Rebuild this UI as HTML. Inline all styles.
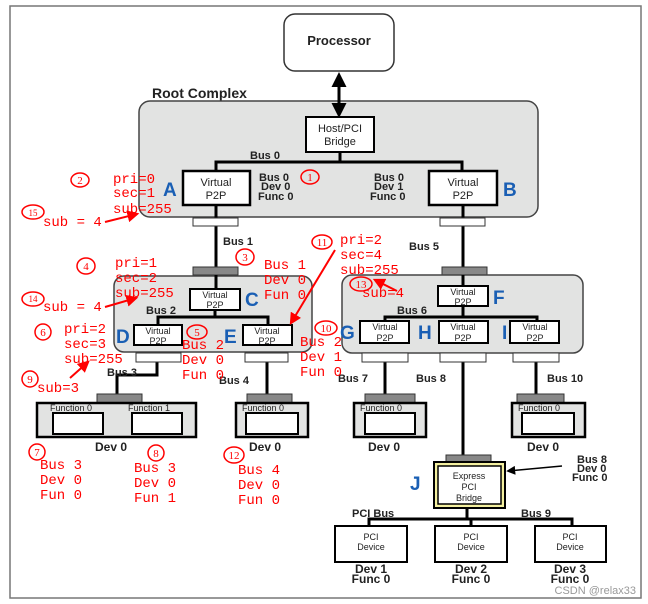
<!DOCTYPE html>
<html><head><meta charset="utf-8"><style>
html,body{margin:0;padding:0;background:#fff;}
svg{display:block;}
.s{font-family:"Liberation Sans",sans-serif;fill:#222;}
.r{font-family:"Liberation Mono",monospace;fill:#f00;font-size:14px;}
.b{font-family:"Liberation Sans",sans-serif;fill:#1a5fb4;font-weight:bold;font-size:19px;}
</style></head><body>
<svg width="648" height="604" viewBox="0 0 648 604" xmlns="http://www.w3.org/2000/svg">
<rect x="10" y="6" width="631" height="592" fill="none" stroke="#777" stroke-width="1.5"/>
<defs>
<marker id="ab" viewBox="0 0 10 10" refX="8" refY="5" markerWidth="5" markerHeight="5" orient="auto-start-reverse"><path d="M0,0L10,5L0,10z" fill="#000"/></marker>
<marker id="ar" viewBox="0 0 10 10" refX="8" refY="5" markerWidth="6" markerHeight="6" orient="auto"><path d="M0,0L10,5L0,10z" fill="#f00"/></marker>
<marker id="ak" viewBox="0 0 10 10" refX="8" refY="5" markerWidth="6" markerHeight="6" orient="auto"><path d="M0,0L10,5L0,10z" fill="#000"/></marker>
</defs>
<!-- Processor -->
<rect x="284" y="14" width="110" height="57" rx="11" fill="#fff" stroke="#333" stroke-width="1.5"/>
<text x="339" y="45" text-anchor="middle" class="s" font-size="13" font-weight="bold">Processor</text>
<text x="152" y="98" class="s" font-size="14" font-weight="bold">Root Complex</text>
<rect x="139" y="101" width="399" height="116" rx="11" fill="#e2e3e2" stroke="#444" stroke-width="1.5"/>
<line x1="339" y1="75" x2="339" y2="115" stroke="#000" stroke-width="3" marker-start="url(#ab)" marker-end="url(#ab)"/>
<rect x="306" y="117" width="68" height="35" fill="#fff" stroke="#000" stroke-width="2"/>
<text x="340" y="132" text-anchor="middle" class="s" font-size="11">Host/PCI</text>
<text x="340" y="145" text-anchor="middle" class="s" font-size="11">Bridge</text>
<g stroke="#000" stroke-width="3" fill="none">
<path d="M340,152V162M216,171V162H462V171"/>
<path d="M216,205V268M463,205V268"/>
<path d="M157,362V375H117V395M267,362V395"/>
<path d="M385,362V395M463,362V473M536,362V395"/>
</g>
<text x="250" y="159" class="s" font-size="11" font-weight="bold">Bus 0</text>
<rect x="183" y="171" width="67" height="34" fill="#fff" stroke="#000" stroke-width="2.5"/>
<text x="216" y="186" text-anchor="middle" class="s" font-size="11">Virtual</text>
<text x="216" y="199" text-anchor="middle" class="s" font-size="11">P2P</text>
<rect x="429" y="171" width="68" height="34" fill="#fff" stroke="#000" stroke-width="2.5"/>
<text x="463" y="186" text-anchor="middle" class="s" font-size="11">Virtual</text>
<text x="463" y="199" text-anchor="middle" class="s" font-size="11">P2P</text>
<text x="163" y="196" class="b">A</text><text x="503" y="196" class="b">B</text>
<g class="s" font-size="11" font-weight="bold"><text x="259" y="181">Bus 0</text><text x="261" y="190">Dev 0</text><text x="258" y="200">Func 0</text>
<text x="374" y="181">Bus 0</text><text x="374" y="190">Dev 1</text><text x="370" y="200">Func 0</text></g>
<rect x="193" y="218" width="45" height="8" fill="#fff" stroke="#333"/>
<rect x="440" y="218" width="45" height="8" fill="#fff" stroke="#333"/>
<text x="223" y="245" class="s" font-size="11" font-weight="bold">Bus 1</text>
<text x="409" y="250" class="s" font-size="11" font-weight="bold">Bus 5</text>
<rect x="193" y="267" width="45" height="8" fill="#888" stroke="#333"/>
<rect x="442" y="267" width="45" height="8" fill="#888" stroke="#333"/>
<!-- left complex -->
<rect x="114" y="276" width="198" height="76" rx="10" fill="#e2e3e2" stroke="#444" stroke-width="1.5"/>
<path d="M216,275V289M215,310V317M158,325V317H268V325" stroke="#000" stroke-width="3" fill="none"/>
<rect x="190" y="289" width="50" height="21" fill="#fff" stroke="#000" stroke-width="2"/>
<text x="215" y="298" text-anchor="middle" class="s" font-size="9">Virtual</text><text x="215" y="308" text-anchor="middle" class="s" font-size="9">P2P</text>
<text x="245" y="306" class="b">C</text>
<text x="146" y="314" class="s" font-size="11" font-weight="bold">Bus 2</text>
<rect x="134" y="325" width="48" height="20" fill="#fff" stroke="#000" stroke-width="2"/>
<text x="158" y="334" text-anchor="middle" class="s" font-size="9">Virtual</text><text x="158" y="344" text-anchor="middle" class="s" font-size="9">P2P</text>
<rect x="243" y="325" width="49" height="20" fill="#fff" stroke="#000" stroke-width="2"/>
<text x="267" y="334" text-anchor="middle" class="s" font-size="9">Virtual</text><text x="267" y="344" text-anchor="middle" class="s" font-size="9">P2P</text>
<text x="116" y="343" class="b">D</text><text x="224" y="343" class="b">E</text>
<rect x="136" y="353" width="45" height="9" fill="#fff" stroke="#333"/>
<rect x="245" y="353" width="43" height="9" fill="#fff" stroke="#333"/>
<!-- right complex -->
<rect x="342" y="275" width="241" height="78" rx="10" fill="#e2e3e2" stroke="#444" stroke-width="1.5"/>
<path d="M463,275V286M463,306V317M385,321V317H537V321M463,343V321" stroke="#000" stroke-width="3" fill="none"/>
<rect x="438" y="286" width="50" height="20" fill="#fff" stroke="#000" stroke-width="2"/>
<text x="463" y="295" text-anchor="middle" class="s" font-size="9">Virtual</text><text x="463" y="305" text-anchor="middle" class="s" font-size="9">P2P</text>
<text x="493" y="304" class="b">F</text>
<text x="397" y="314" class="s" font-size="11" font-weight="bold">Bus 6</text>
<rect x="360" y="321" width="49" height="22" fill="#fff" stroke="#000" stroke-width="2"/>
<text x="385" y="330" text-anchor="middle" class="s" font-size="9">Virtual</text><text x="385" y="341" text-anchor="middle" class="s" font-size="9">P2P</text>
<rect x="439" y="321" width="49" height="22" fill="#fff" stroke="#000" stroke-width="2"/>
<text x="463" y="330" text-anchor="middle" class="s" font-size="9">Virtual</text><text x="463" y="341" text-anchor="middle" class="s" font-size="9">P2P</text>
<rect x="510" y="321" width="49" height="22" fill="#fff" stroke="#000" stroke-width="2"/>
<text x="535" y="330" text-anchor="middle" class="s" font-size="9">Virtual</text><text x="535" y="341" text-anchor="middle" class="s" font-size="9">P2P</text>
<text x="340" y="339" class="b">G</text><text x="418" y="339" class="b">H</text><text x="502" y="339" class="b">I</text>
<rect x="362" y="353" width="46" height="9" fill="#fff" stroke="#333"/>
<rect x="440" y="353" width="46" height="9" fill="#fff" stroke="#333"/>
<rect x="513" y="353" width="46" height="9" fill="#fff" stroke="#333"/>
<g class="s" font-size="11" font-weight="bold">
<text x="107" y="376">Bus 3</text><text x="219" y="384">Bus 4</text><text x="338" y="382">Bus 7</text><text x="416" y="382">Bus 8</text><text x="547" y="382">Bus 10</text></g>
<!-- devices -->
<rect x="97" y="394" width="45" height="9" fill="#888" stroke="#333"/>
<rect x="37" y="403" width="159" height="34" fill="#e2e3e2" stroke="#000" stroke-width="2.5"/>
<rect x="53" y="413" width="50" height="21" fill="#fff" stroke="#000" stroke-width="2"/>
<rect x="132" y="413" width="50" height="21" fill="#fff" stroke="#000" stroke-width="2"/>
<text x="50" y="411" class="s" font-size="9">Function 0</text><text x="128" y="411" class="s" font-size="9">Function 1</text>
<rect x="247" y="394" width="45" height="9" fill="#888" stroke="#333"/>
<rect x="236" y="403" width="72" height="34" fill="#e2e3e2" stroke="#000" stroke-width="2.5"/>
<rect x="246" y="413" width="52" height="21" fill="#fff" stroke="#000" stroke-width="2"/>
<text x="242" y="411" class="s" font-size="9">Function 0</text>
<rect x="365" y="394" width="50" height="9" fill="#888" stroke="#333"/>
<rect x="354" y="403" width="72" height="34" fill="#e2e3e2" stroke="#000" stroke-width="2.5"/>
<rect x="365" y="413" width="50" height="21" fill="#fff" stroke="#000" stroke-width="2"/>
<text x="360" y="411" class="s" font-size="9">Function 0</text>
<rect x="517" y="394" width="47" height="9" fill="#888" stroke="#333"/>
<rect x="512" y="403" width="73" height="34" fill="#e2e3e2" stroke="#000" stroke-width="2.5"/>
<rect x="522" y="413" width="52" height="21" fill="#fff" stroke="#000" stroke-width="2"/>
<text x="518" y="411" class="s" font-size="9">Function 0</text>
<g class="s" font-size="12" font-weight="bold"><text x="95" y="451">Dev 0</text><text x="249" y="451">Dev 0</text><text x="368" y="451">Dev 0</text><text x="527" y="451">Dev 0</text></g>
<!-- J -->
<rect x="446" y="455" width="45" height="8" fill="#888" stroke="#333"/>
<rect x="434" y="462" width="71" height="46" fill="#f4f0a0" stroke="#000" stroke-width="2"/>
<rect x="438" y="466" width="63" height="38" fill="#fff" stroke="#000" stroke-width="1.5"/>
<text x="469" y="479" text-anchor="middle" class="s" font-size="9">Express</text>
<text x="469" y="490" text-anchor="middle" class="s" font-size="9">PCI</text>
<text x="469" y="501" text-anchor="middle" class="s" font-size="9">Bridge</text>
<text x="410" y="490" class="b">J</text>
<line x1="562" y1="466" x2="508" y2="471" stroke="#000" stroke-width="1.5" marker-end="url(#ak)"/>
<g class="s" font-size="11" font-weight="bold"><text x="577" y="463">Bus 8</text><text x="577" y="472">Dev 0</text><text x="572" y="481">Func 0</text>
<text x="352" y="517">PCI Bus</text><text x="521" y="517">Bus 9</text></g>
<path d="M467,508V519M369,526V519H572V526M471,519V526" stroke="#000" stroke-width="3" fill="none"/>
<rect x="335" y="526" width="72" height="36" fill="#fff" stroke="#000" stroke-width="2"/>
<rect x="435" y="526" width="72" height="36" fill="#fff" stroke="#000" stroke-width="2"/>
<rect x="535" y="526" width="71" height="36" fill="#fff" stroke="#000" stroke-width="2"/>
<g class="s" font-size="9" text-anchor="middle"><text x="371" y="540">PCI</text><text x="371" y="550">Device</text><text x="471" y="540">PCI</text><text x="471" y="550">Device</text><text x="570" y="540">PCI</text><text x="570" y="550">Device</text></g>
<g class="s" font-size="12" font-weight="bold" text-anchor="middle"><text x="371" y="573">Dev 1</text><text x="371" y="583">Func 0</text><text x="471" y="573">Dev 2</text><text x="471" y="583">Func 0</text><text x="570" y="573">Dev 3</text><text x="570" y="583">Func 0</text></g>
<text x="636" y="594" text-anchor="end" font-family="Liberation Sans,sans-serif" font-size="11" fill="#999">CSDN @relax33</text>
<!-- red annotations -->
<g fill="none" stroke="#f00" stroke-width="1.5">
<ellipse cx="80" cy="180" rx="9" ry="7"/><ellipse cx="33" cy="212" rx="11" ry="7"/><ellipse cx="310" cy="177" rx="9" ry="7"/>
<ellipse cx="245" cy="257" rx="9" ry="8"/><ellipse cx="86" cy="266" rx="9" ry="8"/><ellipse cx="33" cy="299" rx="11" ry="7"/>
<ellipse cx="43" cy="332" rx="8" ry="8"/><ellipse cx="197" cy="332" rx="10" ry="7"/><ellipse cx="30" cy="379" rx="8" ry="8"/>
<ellipse cx="322" cy="242" rx="10" ry="7"/><ellipse cx="326" cy="328" rx="11" ry="7"/><ellipse cx="361" cy="284" rx="11" ry="7"/>
<ellipse cx="37" cy="452" rx="8" ry="8"/><ellipse cx="156" cy="453" rx="8" ry="8"/><ellipse cx="234" cy="455" rx="10" ry="8"/>
</g>
<g font-family="Liberation Serif,serif" fill="#f00" font-size="11" text-anchor="middle">
<text x="80" y="184">2</text><text x="33" y="216" font-size="9">15</text><text x="310" y="181">1</text><text x="245" y="261">3</text><text x="86" y="270">4</text>
<text x="33" y="302" font-size="9">14</text><text x="43" y="336">6</text><text x="197" y="336">5</text><text x="30" y="383">9</text><text x="322" y="246">11</text>
<text x="326" y="332">10</text><text x="361" y="288">13</text><text x="37" y="456">7</text><text x="156" y="457">8</text><text x="234" y="459">12</text></g>
<g class="r">
<text x="113" y="183">pri=0</text><text x="113" y="197">sec=1</text><text x="113" y="213">sub=255</text>
<text x="43" y="226">sub = 4</text>
<text x="264" y="269">Bus 1</text><text x="264" y="284">Dev 0</text><text x="264" y="299">Fun 0</text>
<text x="115" y="267">pri=1</text><text x="115" y="282">sec=2</text><text x="115" y="297">sub=255</text>
<text x="43" y="311">sub = 4</text>
<text x="64" y="333">pri=2</text><text x="64" y="348">sec=3</text><text x="64" y="363">sub=255</text>
<text x="182" y="349">Bus 2</text><text x="182" y="364">Dev 0</text><text x="182" y="379">Fun 0</text>
<text x="37" y="392">sub=3</text>
<text x="340" y="244">pri=2</text><text x="340" y="259">sec=4</text><text x="340" y="274">sub=255</text>
<text x="362" y="297">sub=4</text>
<text x="300" y="346">Bus 2</text><text x="300" y="361">Dev 1</text><text x="300" y="376">Fun 0</text>
<text x="40" y="469">Bus 3</text><text x="40" y="484">Dev 0</text><text x="40" y="499">Fun 0</text>
<text x="134" y="472">Bus 3</text><text x="134" y="487">Dev 0</text><text x="134" y="502">Fun 1</text>
<text x="238" y="474">Bus 4</text><text x="238" y="489">Dev 0</text><text x="238" y="504">Fun 0</text>
</g>
<g stroke="#f00" stroke-width="2" fill="none">
<line x1="105" y1="222" x2="137" y2="214" marker-end="url(#ar)"/>
<line x1="105" y1="307" x2="136" y2="298" marker-end="url(#ar)"/>
<line x1="70" y1="378" x2="88" y2="362" marker-end="url(#ar)"/>
<line x1="335" y1="250" x2="291" y2="323" marker-end="url(#ar)"/>
<line x1="397" y1="291" x2="375" y2="280" marker-end="url(#ar)"/>
</g>
</svg>
</body></html>
